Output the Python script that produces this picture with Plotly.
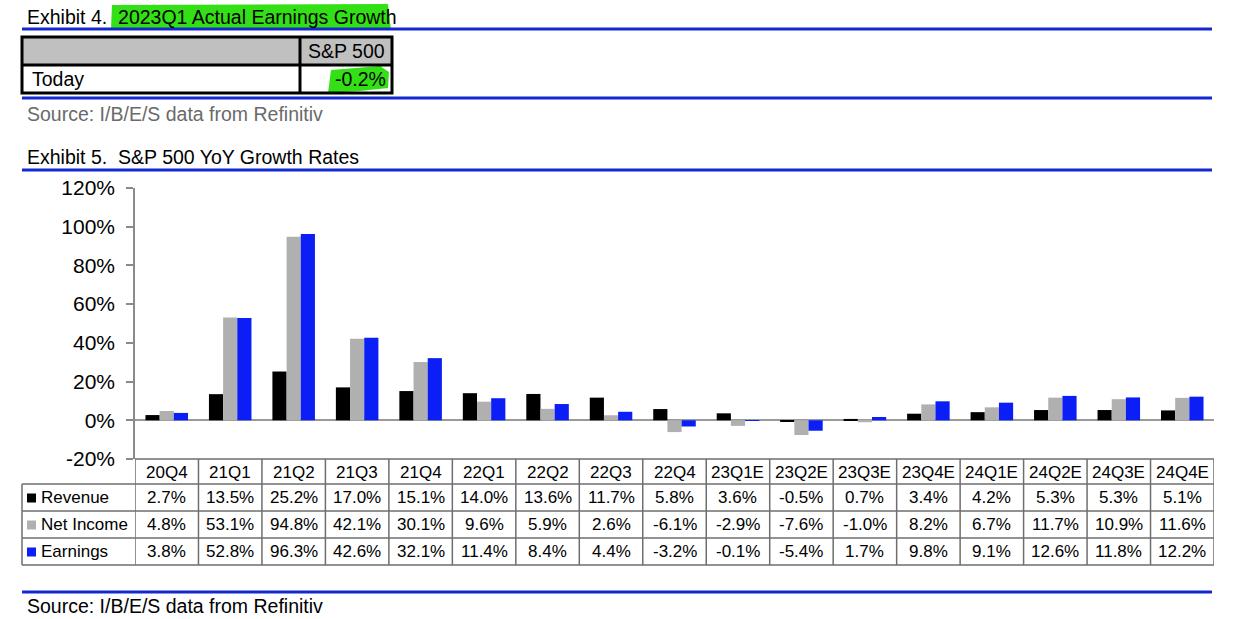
import plotly.graph_objects as go

W, H = 1233, 619

quarters = ["20Q4", "21Q1", "21Q2", "21Q3", "21Q4", "22Q1", "22Q2", "22Q3", "22Q4",
            "23Q1E", "23Q2E", "23Q3E", "23Q4E", "24Q1E", "24Q2E", "24Q3E", "24Q4E"]
revenue = [2.7, 13.5, 25.2, 17.0, 15.1, 14.0, 13.6, 11.7, 5.8, 3.6, -0.5, 0.7, 3.4, 4.2, 5.3, 5.3, 5.1]
net_income = [4.8, 53.1, 94.8, 42.1, 30.1, 9.6, 5.9, 2.6, -6.1, -2.9, -7.6, -1.0, 8.2, 6.7, 11.7, 10.9, 11.6]
earnings = [3.8, 52.8, 96.3, 42.6, 32.1, 11.4, 8.4, 4.4, -3.2, -0.1, -5.4, 1.7, 9.8, 9.1, 12.6, 11.8, 12.2]

series_names = ["Revenue", "Net Income", "Earnings"]
series_colors = ["#000000", "#b0b0b0", "#0a1ef5"]
series_values = [revenue, net_income, earnings]

y_ticks = [-20, 0, 20, 40, 60, 80, 100, 120]

today_label = "Today"
today_value = -0.2

FONT = "Liberation Sans, Arial, sans-serif"
BLUE_RULE = "#1428d2"
GRID = "#6e6e6e"


def px(x):
    return x / W


def py(y):
    return 1 - y / H


fig = go.Figure()
for name, color, vals in zip(series_names, series_colors, series_values):
    fig.add_trace(go.Bar(x=quarters, y=vals, name=name, marker_color=color,
                         marker_line_width=0))

shapes = []
annotations = []

# blue rules
for y in [29, 98, 170, 592]:
    shapes.append(dict(type="line", xref="paper", yref="paper", x0=px(22), x1=px(1212),
                       y0=py(y), y1=py(y), line=dict(color=BLUE_RULE, width=3)))

# highlighter marks
shapes.append(dict(type="path", xref="paper", yref="paper",
                   path=f"M {px(111)},{py(29)} L {px(112)},{py(5)} L {px(388)},{py(4)} "
                        f"L {px(391)},{py(30)} L {px(300)},{py(30)} Z",
                   fillcolor="#33e016", line_width=0, layer="below"))
shapes.append(dict(type="path", xref="paper", yref="paper",
                   path=f"M {px(328)},{py(93)} L {px(331)},{py(70)} L {px(380)},{py(66)} "
                        f"L {px(389)},{py(72)} L {px(388)},{py(88)} L {px(360)},{py(91)} Z",
                   fillcolor="#33e016", line_width=0, layer="below"))

# exhibit 4 table
shapes.append(dict(type="rect", xref="paper", yref="paper", x0=px(22), x1=px(392),
                   y0=py(64), y1=py(37), fillcolor="#c0c0c0", line_width=0, layer="below"))
shapes.append(dict(type="rect", xref="paper", yref="paper", x0=px(22), x1=px(392),
                   y0=py(93), y1=py(37), line=dict(color="#000000", width=3)))
shapes.append(dict(type="line", xref="paper", yref="paper", x0=px(22), x1=px(392),
                   y0=py(65), y1=py(65), line=dict(color="#000000", width=3)))
shapes.append(dict(type="line", xref="paper", yref="paper", x0=px(300), x1=px(300),
                   y0=py(37), y1=py(93), line=dict(color="#000000", width=3)))

txt = dict(xref="paper", yref="paper", showarrow=False, yanchor="middle",
           font=dict(family=FONT, size=19.5, color="#000000"))
annotations += [
    dict(txt, x=px(25), y=py(17), text="Exhibit 4.&nbsp; 2023Q1 Actual Earnings Growth", xanchor="left"),
    dict(txt, x=px(387), y=py(51), text="S&P 500", xanchor="right"),
    dict(txt, x=px(30), y=py(79), text=today_label, xanchor="left"),
    dict(txt, x=px(388), y=py(79), text=f"{today_value:.1f}%", xanchor="right"),
    dict(txt, x=px(25), y=py(114), text="Source: I/B/E/S data from Refinitiv", xanchor="left",
         font=dict(family=FONT, size=19.5, color="#6a6a6a")),
    dict(txt, x=px(25), y=py(157), text="Exhibit 5.&nbsp; S&P 500 YoY Growth Rates", xanchor="left"),
    dict(txt, x=px(25), y=py(606), text="Source: I/B/E/S data from Refinitiv", xanchor="left"),
]

# data table under the bars
row_edges = [459, 484, 511, 538, 565]
n = len(quarters)
for i in range(n + 1):
    shapes.append(dict(type="line", xref="x", yref="paper", x0=i - 0.5, x1=i - 0.5,
                       y0=py(row_edges[0]), y1=py(row_edges[-1]),
                       line=dict(color=GRID, width=1.5)))
shapes.append(dict(type="line", xref="paper", yref="paper", x0=px(22), x1=px(22),
                   y0=py(row_edges[1]), y1=py(row_edges[-1]), line=dict(color=GRID, width=1.5)))
for j, y in enumerate(row_edges):
    x0 = 135 if j == 0 else 22
    shapes.append(dict(type="line", xref="paper", yref="paper", x0=px(x0), x1=px(1214),
                       y0=py(y), y1=py(y), line=dict(color=GRID, width=1.5)))

cell = dict(yref="paper", showarrow=False, yanchor="middle",
            font=dict(family=FONT, size=17, color="#000000"))
for i, q in enumerate(quarters):
    annotations.append(dict(cell, xref="x", x=q, y=py(472), text=q))
for r, (name, color, vals) in enumerate(zip(series_names, series_colors, series_values)):
    yc = (row_edges[r + 1] + row_edges[r + 2]) / 2
    shapes.append(dict(type="rect", xref="paper", yref="paper", x0=px(27), x1=px(36),
                       y0=py(yc + 5), y1=py(yc - 4), fillcolor=color, line_width=0))
    annotations.append(dict(cell, xref="paper", x=px(39), y=py(yc), text=name, xanchor="left"))
    for q, v in zip(quarters, vals):
        annotations.append(dict(cell, xref="x", x=q, y=py(yc), text=f"{v:.1f}%"))

fig.update_layout(
    width=W, height=H,
    margin=dict(l=0, r=0, t=0, b=0, autoexpand=False),
    paper_bgcolor="white", plot_bgcolor="white",
    barmode="group", bargap=0.33, bargroupgap=0,
    showlegend=False,
    font=dict(family=FONT, color="#000000"),
    shapes=shapes, annotations=annotations,
    xaxis=dict(domain=[px(135), px(1214)], showticklabels=False, showgrid=False, automargin=False,
               ticks="", showline=False, zeroline=False, range=[-0.5, n - 0.5]),
    yaxis=dict(domain=[py(459), py(188)], range=[-20, 120], automargin=False,
               tickvals=y_ticks, ticktext=[f"{t}%" for t in y_ticks],
               showgrid=False, showline=True, linecolor="#8a8a8a", linewidth=1.5,
               ticks="outside", ticklen=7, tickcolor="#8a8a8a", tickwidth=1.5,
               ticklabelstandoff=7, zeroline=True, zerolinecolor="#9a9a9a", zerolinewidth=1.5,
               tickfont=dict(family=FONT, size=21, color="#000000")),
)

fig.write_html("out.html", config={"displayModeBar": False},
               post_script="document.body.style.margin='0';document.body.style.overflow='hidden';")
